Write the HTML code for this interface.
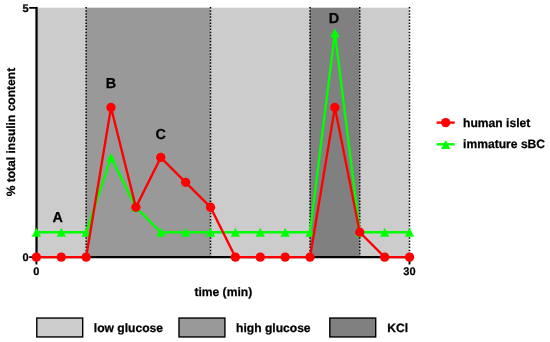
<!DOCTYPE html>
<html><head><meta charset="utf-8"><title>insulin secretion</title>
<style>html,body{margin:0;padding:0;background:#fff}svg{display:block}</style></head><body>
<svg width="550" height="342" viewBox="0 0 550 342">
<rect width="550" height="342" fill="#fff"/>
<rect x="37.60" y="7.7" width="48.55" height="248.30" fill="#cccccc"/>
<rect x="86.15" y="7.7" width="124.37" height="248.30" fill="#999999"/>
<rect x="210.52" y="7.7" width="99.50" height="248.30" fill="#cccccc"/>
<rect x="310.01" y="7.7" width="49.75" height="248.30" fill="#808080"/>
<rect x="359.76" y="7.7" width="49.24" height="248.30" fill="#cccccc"/>
<line x1="86.15" y1="7.1" x2="86.15" y2="256.0" stroke="#000" stroke-width="1.5" stroke-dasharray="1.5 1.57"/>
<line x1="210.52" y1="7.1" x2="210.52" y2="256.0" stroke="#000" stroke-width="1.5" stroke-dasharray="1.5 1.57"/>
<line x1="310.01" y1="7.1" x2="310.01" y2="256.0" stroke="#000" stroke-width="1.5" stroke-dasharray="1.5 1.57"/>
<line x1="359.76" y1="7.1" x2="359.76" y2="256.0" stroke="#000" stroke-width="1.5" stroke-dasharray="1.5 1.57"/>
<line x1="409.51" y1="7.1" x2="409.51" y2="256.0" stroke="#000" stroke-width="1.5" stroke-dasharray="1.5 1.57"/>
<path d="M36.55 6.95V258.2" fill="none" stroke="#000" stroke-width="2.3"/>
<path d="M36.5 257.15H409.51" fill="none" stroke="#000" stroke-width="2.2"/>
<path d="M29.2 7.9H36.5M29.2 257.15H36.5M36.4 257.15V264.5M409.51 257.15V264.5" fill="none" stroke="#000" stroke-width="1.9"/>
<text x="28.6" y="12" text-anchor="end" font-size="11" font-family="Liberation Sans, Arial, Helvetica, sans-serif" font-weight="bold" text-rendering="geometricPrecision" stroke="#000" stroke-width="0.25">5</text>
<text x="28.6" y="260.8" text-anchor="end" font-size="11" font-family="Liberation Sans, Arial, Helvetica, sans-serif" font-weight="bold" text-rendering="geometricPrecision" stroke="#000" stroke-width="0.25">0</text>
<text x="36.3" y="275.3" text-anchor="middle" font-size="11" font-family="Liberation Sans, Arial, Helvetica, sans-serif" font-weight="bold" text-rendering="geometricPrecision" stroke="#000" stroke-width="0.25">0</text>
<text x="409.4" y="275.3" text-anchor="middle" font-size="11" font-family="Liberation Sans, Arial, Helvetica, sans-serif" font-weight="bold" text-rendering="geometricPrecision" stroke="#000" stroke-width="0.25">30</text>
<text x="223.3" y="295.5" text-anchor="middle" font-size="12.1" font-family="Liberation Sans, Arial, Helvetica, sans-serif" font-weight="bold" text-rendering="geometricPrecision" stroke="#000" stroke-width="0.25">time (min)</text>
<text transform="translate(15.1 132.1) rotate(-90)" text-anchor="middle" font-size="12.05" font-family="Liberation Sans, Arial, Helvetica, sans-serif" font-weight="bold" text-rendering="geometricPrecision" stroke="#000" stroke-width="0.25">% total insulin content</text>
<text x="57.6" y="221.6" text-anchor="middle" font-size="14.4" font-family="Liberation Sans, Arial, Helvetica, sans-serif" font-weight="bold" text-rendering="geometricPrecision" stroke="#000" stroke-width="0.25">A</text>
<text x="111.0" y="87.6" text-anchor="middle" font-size="14.4" font-family="Liberation Sans, Arial, Helvetica, sans-serif" font-weight="bold" text-rendering="geometricPrecision" stroke="#000" stroke-width="0.25">B</text>
<text x="160.8" y="139.4" text-anchor="middle" font-size="14.4" font-family="Liberation Sans, Arial, Helvetica, sans-serif" font-weight="bold" text-rendering="geometricPrecision" stroke="#000" stroke-width="0.25">C</text>
<text x="334.0" y="23.4" text-anchor="middle" font-size="14.4" font-family="Liberation Sans, Arial, Helvetica, sans-serif" font-weight="bold" text-rendering="geometricPrecision" stroke="#000" stroke-width="0.25">D</text>
<polyline points="36.40,232.21 61.27,232.21 86.15,232.21 111.02,157.39 135.90,207.27 160.77,232.21 185.64,232.21 210.52,232.21 235.39,232.21 260.27,232.21 285.14,232.21 310.01,232.21 334.89,32.69 359.76,232.21 384.64,232.21 409.51,232.21" fill="none" stroke="#00ff00" stroke-width="2.35" stroke-linejoin="miter"/>
<path d="M36.40 227.81L41.00 236.81H31.80Z" fill="#00ff00"/>
<path d="M61.27 227.81L65.87 236.81H56.67Z" fill="#00ff00"/>
<path d="M86.15 227.81L90.75 236.81H81.55Z" fill="#00ff00"/>
<path d="M111.02 152.99L115.62 161.99H106.42Z" fill="#00ff00"/>
<path d="M135.90 202.87L140.50 211.87H131.30Z" fill="#00ff00"/>
<path d="M160.77 227.81L165.37 236.81H156.17Z" fill="#00ff00"/>
<path d="M185.64 227.81L190.24 236.81H181.04Z" fill="#00ff00"/>
<path d="M210.52 227.81L215.12 236.81H205.92Z" fill="#00ff00"/>
<path d="M235.39 227.81L239.99 236.81H230.79Z" fill="#00ff00"/>
<path d="M260.27 227.81L264.87 236.81H255.67Z" fill="#00ff00"/>
<path d="M285.14 227.81L289.74 236.81H280.54Z" fill="#00ff00"/>
<path d="M310.01 227.81L314.61 236.81H305.41Z" fill="#00ff00"/>
<path d="M334.89 28.29L339.49 37.29H330.29Z" fill="#00ff00"/>
<path d="M359.76 227.81L364.36 236.81H355.16Z" fill="#00ff00"/>
<path d="M384.64 227.81L389.24 236.81H380.04Z" fill="#00ff00"/>
<path d="M409.51 227.81L414.11 236.81H404.91Z" fill="#00ff00"/>
<polyline points="36.40,257.15 61.27,257.15 86.15,257.15 111.02,107.51 135.90,207.27 160.77,157.39 185.64,182.33 210.52,207.27 235.39,257.15 260.27,257.15 285.14,257.15 310.01,257.15 334.89,107.51 359.76,232.21 384.64,257.15 409.51,257.15" fill="none" stroke="#ff0000" stroke-width="2.35" stroke-linejoin="miter"/>
<circle cx="36.40" cy="257.15" r="4.65" fill="#ff0000"/>
<circle cx="61.27" cy="257.15" r="4.65" fill="#ff0000"/>
<circle cx="86.15" cy="257.15" r="4.65" fill="#ff0000"/>
<circle cx="111.02" cy="107.51" r="4.65" fill="#ff0000"/>
<circle cx="135.90" cy="207.27" r="4.65" fill="#ff0000"/>
<circle cx="160.77" cy="157.39" r="4.65" fill="#ff0000"/>
<circle cx="185.64" cy="182.33" r="4.65" fill="#ff0000"/>
<circle cx="210.52" cy="207.27" r="4.65" fill="#ff0000"/>
<circle cx="235.39" cy="257.15" r="4.65" fill="#ff0000"/>
<circle cx="260.27" cy="257.15" r="4.65" fill="#ff0000"/>
<circle cx="285.14" cy="257.15" r="4.65" fill="#ff0000"/>
<circle cx="310.01" cy="257.15" r="4.65" fill="#ff0000"/>
<circle cx="334.89" cy="107.51" r="4.65" fill="#ff0000"/>
<circle cx="359.76" cy="232.21" r="4.65" fill="#ff0000"/>
<circle cx="384.64" cy="257.15" r="4.65" fill="#ff0000"/>
<circle cx="409.51" cy="257.15" r="4.65" fill="#ff0000"/>
<line x1="436.6" y1="122.6" x2="454.7" y2="122.6" stroke="#ff0000" stroke-width="2.35"/><circle cx="445.7" cy="122.6" r="4.65" fill="#ff0000"/>
<text x="463.1" y="126.7" font-size="12.1" font-family="Liberation Sans, Arial, Helvetica, sans-serif" font-weight="bold" text-rendering="geometricPrecision" stroke="#000" stroke-width="0.25">human islet</text>
<line x1="436.6" y1="144.3" x2="454.7" y2="144.3" stroke="#00ff00" stroke-width="2.35"/><path d="M445.7 139.9L450.3 148.9H441.1Z" fill="#00ff00"/>
<text x="463.1" y="148.2" font-size="12.1" font-family="Liberation Sans, Arial, Helvetica, sans-serif" font-weight="bold" text-rendering="geometricPrecision" stroke="#000" stroke-width="0.25">immature sBC</text>
<rect x="36.800000000000004" y="318.05" width="45.9" height="18.9" fill="#cccccc" stroke="#000" stroke-width="1.4"/>
<text x="93.80" y="331.5" font-size="12.1" font-family="Liberation Sans, Arial, Helvetica, sans-serif" font-weight="bold" text-rendering="geometricPrecision" stroke="#000" stroke-width="0.25">low glucose</text>
<rect x="179.0" y="318.05" width="45.9" height="18.9" fill="#999999" stroke="#000" stroke-width="1.4"/>
<text x="236.00" y="331.5" font-size="12.1" font-family="Liberation Sans, Arial, Helvetica, sans-serif" font-weight="bold" text-rendering="geometricPrecision" stroke="#000" stroke-width="0.25">high glucose</text>
<rect x="329.8" y="318.05" width="45.9" height="18.9" fill="#808080" stroke="#000" stroke-width="1.4"/>
<text x="387.30" y="331.5" font-size="12.1" font-family="Liberation Sans, Arial, Helvetica, sans-serif" font-weight="bold" text-rendering="geometricPrecision" stroke="#000" stroke-width="0.25">KCl</text>
</svg></body></html>
